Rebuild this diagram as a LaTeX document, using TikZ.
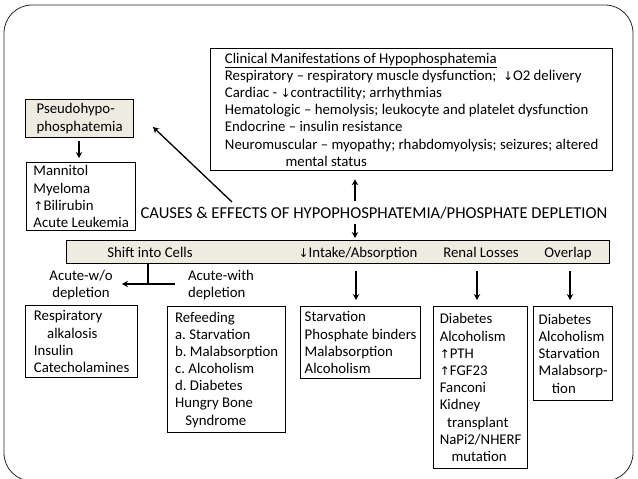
\documentclass[tikz,border=0pt]{standalone}
\usepackage{fontspec}
\setmainfont{Carlito}
\newfontfamily\symf{DejaVu Sans}
\usetikzlibrary{arrows.meta,positioning}
\definecolor{tanbg}{HTML}{EEECE1}
\newcommand{\arrdown}{{\symf\fontsize{12}{12}\selectfont ↓}}
\newcommand{\arrup}{{\symf\fontsize{12}{12}\selectfont ↑}}
\frenchspacing

\begin{document}
\begin{tikzpicture}[x=1pt,y=-1pt,
    every node/.style={font=\fontsize{14.8}{17.2}\selectfont},
    box/.style={draw,line width=1.3pt,anchor=north west,align=left,inner sep=2pt},
    tanbox/.style={box,fill=tanbg},
    barlabel/.style={anchor=base},
    arr/.style={-{Stealth[length=6pt,width=6.5pt]},line width=1.3pt}]
    \useasboundingbox (0,0) rectangle (638,479);
    \draw[rounded corners=28pt,line width=0.8pt,black!85] (4,5) rectangle (633,481);

    % effects and pseudo causes
    \node [box,minimum width=402pt,minimum height=122pt] (clin) at (210,48)
        {\underline{Clinical Manifestations of Hypophosphatemia}\\
         Respiratory -- respiratory muscle dysfunction;\ \ \arrdown O2 delivery\\
         Cardiac - \arrdown contractility; arrhythmias\\
         Hematologic -- hemolysis; leukocyte and platelet dysfunction\\
         Endocrine -- insulin resistance\\
         Neuromuscular -- myopathy; rhabdomyolysis; seizures; altered\\
         \hspace*{4.1em}mental status};
    \node [tanbox,minimum width=108pt,minimum height=38pt] (pseudo) at (25,99)
        {Pseudohypo-\\phosphatemia};
    \node [box,minimum width=109pt,minimum height=68pt] (mann) at (26,162)
        {Mannitol\\Myeloma\\\arrup Bilirubin\\Acute Leukemia};
    \node [font=\fontsize{16.6}{18}\selectfont] (title) at (374,213)
        {CAUSES \& EFFECTS OF HYPOPHOSPHATEMIA/PHOSPHATE DEPLETION};

    % categories
    \node [tanbox,minimum width=543pt,minimum height=23pt] (bar) at (66,240) {};
    \node [barlabel] (shift) at (150,257) {Shift into Cells};
    \node [barlabel] (intake) at (358,257) {\arrdown Intake/Absorption};
    \node [barlabel] (renal) at (481,257) {Renal Losses};
    \node [barlabel] (over) at (568,257) {Overlap};
    \node [align=center] (wo) at (81,285) {Acute-w/o\\depletion};
    \node [align=left] (with) at (221,285) {Acute-with\\depletion};

    % causes
    \node [box,minimum width=112pt,minimum height=72pt] (resp) at (25,305)
        {Respiratory\\\hspace*{0.9em}alkalosis\\Insulin\\Catecholamines};
    \node [box,minimum width=118pt,minimum height=126pt] (refeed) at (167,306)
        {Refeeding\\a. Starvation\\b. Malabsorption\\c. Alcoholism\\d. Diabetes\\
         Hungry Bone\\\hspace*{0.7em}Syndrome};
    \node [box,minimum width=120pt,minimum height=72pt] (starv) at (300,306)
        {Starvation\\Phosphate binders\\Malabsorption\\Alcoholism};
    \node [box,minimum width=94pt,minimum height=162pt] (loss) at (433,306)
        {Diabetes\\Alcoholism\\\arrup PTH\\\arrup FGF23\\Fanconi\\Kidney\\
         \hspace*{0.5em}transplant\\NaPi2/NHERF\\\hspace*{0.8em}mutation};
    \node [box,minimum width=79pt,minimum height=94pt] (both) at (533,306)
        {Diabetes\\Alcoholism\\Starvation\\Malabsorp-\\\hspace*{0.9em}tion};

    \coordinate (hub) at (355,213);
    \coordinate (diag) at (232,202);
    \coordinate (diagtip) at (153,127);
    \coordinate (split) at (148,284);
    \coordinate (wotip) at (122,284);
    \coordinate (withtip) at (175,284);

    \draw[arr] (diag) -- (diagtip);
    \draw[arr,shorten <=3pt,shorten >=4pt] (pseudo.south -| 79,0) -- (mann.north -| 79,0);
    \draw[arr,shorten <=2pt,shorten >=8pt] (title.north -| hub) -- (clin.south -| hub);
    \draw[arr,shorten <=1pt,shorten >=2pt] (title.south -| hub) -- (bar.north -| hub);
    \draw[line width=1.3pt] (bar.south -| split) -- (split);
    \draw[arr,{Stealth[length=6pt,width=6.5pt]}-] (wotip) -- (withtip);
    \draw[arr,shorten <=7pt,shorten >=6pt] (bar.south -| 356,0) -- (starv.north -| 356,0);
    \draw[arr,shorten <=7pt,shorten >=6pt] (bar.south -| 477,0) -- (loss.north -| 477,0);
    \draw[arr,shorten <=7pt,shorten >=6pt] (bar.south -| 570,0) -- (both.north -| 570,0);
\end{tikzpicture}
\end{document}
